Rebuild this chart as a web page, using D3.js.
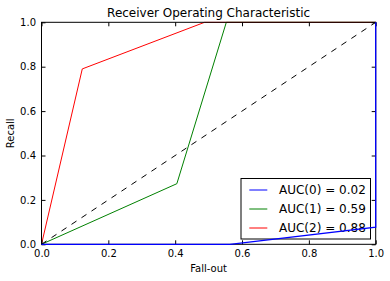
<!DOCTYPE html>
<html>
<head>
<meta charset="utf-8">
<script src="https://cdn.jsdelivr.net/npm/d3@7"></script>
<style>
  body { margin: 0; background: #fff; }
  text { font-family: "DejaVu Sans", sans-serif; fill: #000; }
</style>
</head>
<body>
<div id="chart"></div>
<script>
// ROC curves
let fpr0 = [0, 0.564, 1.0, 1.0];
let tpr0 = [0, 0, 0.077, 1.0];
let fpr1 = [0, 0.405, 0.553, 1.0];
let tpr1 = [0, 0.273, 1.0, 1.0];
let fpr2 = [0, 0.122, 0.488, 1.0];
let tpr2 = [0, 0.79, 1.0, 1.0];
let labels = ["AUC(0) = 0.02", "AUC(1) = 0.59", "AUC(2) = 0.88"];
let colors = ["#0000ff", "#008000", "#ff0000"];
let ticks = [0, 0.2, 0.4, 0.6, 0.8, 1.0];

let width = 390, height = 281;
let padding = {"top": 22.3, "bottom": 36.7, "left": 41.5, "right": 14.3};

let x = d3.scaleLinear().domain([0, 1]).range([padding.left, width - padding.right]);
let y = d3.scaleLinear().domain([0, 1]).range([height - padding.bottom, padding.top]);

const svg = d3.select("#chart")
  .append("svg")
  .attr("width", width)
  .attr("height", height);

let curves = [[fpr0, tpr0], [fpr1, tpr1], [fpr2, tpr2]];
let line = d3.line().x((d) => x(d[0])).y((d) => y(d[1]));

svg.append("defs").append("clipPath").attr("id", "clip")
  .append("rect")
  .attr("x", x(0) - 1).attr("y", y(1) - 1)
  .attr("width", x(1) - x(0) + 2).attr("height", y(0) - y(1) + 2);

const plot = svg.append("g").attr("clip-path", "url(#clip)");

curves.slice(1).forEach(function(c, i) {
  plot.append("path")
    .datum(c[0].map((v, j) => [v, c[1][j]]))
    .attr("d", line)
    .attr("fill", "none")
    .attr("stroke", colors[i + 1])
    .attr("stroke-width", 1);
});

// diagonal
plot.append("path")
  .datum([[0, 0], [1, 1]])
  .attr("d", line)
  .attr("fill", "none")
  .attr("stroke", "#000")
  .attr("stroke-width", 1)
  .attr("stroke-dasharray", "6,6");

// axes: inward ticks on every side
let xAxisB = d3.axisBottom(x).tickValues(ticks).tickFormat(d3.format(".1f")).tickSizeInner(-4).tickSizeOuter(0).tickPadding(5.5);
let xAxisT = d3.axisTop(x).tickValues(ticks).tickFormat("").tickSizeInner(-4).tickSizeOuter(0);
let yAxisL = d3.axisLeft(y).tickValues(ticks).tickFormat(d3.format(".1f")).tickSizeInner(-4).tickSizeOuter(0).tickPadding(5.5);
let yAxisR = d3.axisRight(y).tickValues(ticks).tickFormat("").tickSizeInner(-4).tickSizeOuter(0);

function styleAxis(g) {
  g.select(".domain").remove();
  g.selectAll("line").attr("stroke", "#000");
  g.selectAll("text").style("font-size", "10px").style("font-family", "DejaVu Sans");
}
svg.append("g").attr("transform", "translate(0," + y(0) + ")").call(xAxisB).call(styleAxis);
svg.append("g").attr("transform", "translate(0," + y(1) + ")").call(xAxisT).call(styleAxis);
svg.append("g").attr("transform", "translate(" + x(0) + ",0)").call(yAxisL).call(styleAxis);
svg.append("g").attr("transform", "translate(" + x(1) + ",0)").call(yAxisR).call(styleAxis);

svg.append("rect")
  .attr("x", x(0)).attr("y", y(1))
  .attr("width", x(1) - x(0)).attr("height", y(0) - y(1))
  .attr("fill", "none").attr("stroke", "#000").attr("stroke-width", 1);

svg.append("text")
  .text("Receiver Operating Characteristic")
  .attr("x", (x(0) + x(1)) / 2)
  .attr("y", 17)
  .attr("text-anchor", "middle")
  .style("font-size", "12px");

svg.append("text")
  .text("Fall-out")
  .attr("x", (x(0) + x(1)) / 2)
  .attr("y", 272)
  .attr("text-anchor", "middle")
  .style("font-size", "10px");

svg.append("text")
  .text("Recall")
  .attr("transform", "translate(14," + (y(0) + y(1)) / 2 + ") rotate(-90)")
  .attr("text-anchor", "middle")
  .style("font-size", "10px");

// legend
const legend = svg.append("g").attr("id", "legend");
legend.append("rect")
  .attr("x", 241).attr("y", 178.5)
  .attr("width", 129.5).attr("height", 60.5)
  .attr("fill", "#fff").attr("stroke", "#000").attr("stroke-width", 1);

labels.forEach(function(l, i) {
  let ly = 190 + i * 19;
  legend.append("line")
    .attr("x1", 249.3).attr("x2", 267.3)
    .attr("y1", ly).attr("y2", ly)
    .attr("stroke", colors[i]).attr("stroke-width", 1);
  legend.append("text")
    .text(l)
    .attr("x", 279)
    .attr("y", ly)
    .attr("dy", "0.35em")
    .style("font-size", "12px");
});

// the blue curve runs along the spines and over the legend in the reference
svg.append("path")
  .datum(fpr0.map((v, j) => [v, tpr0[j]]))
  .attr("d", line)
  .attr("fill", "none")
  .attr("stroke", colors[0])
  .attr("stroke-width", 1.3);
</script>
</body>
</html>
